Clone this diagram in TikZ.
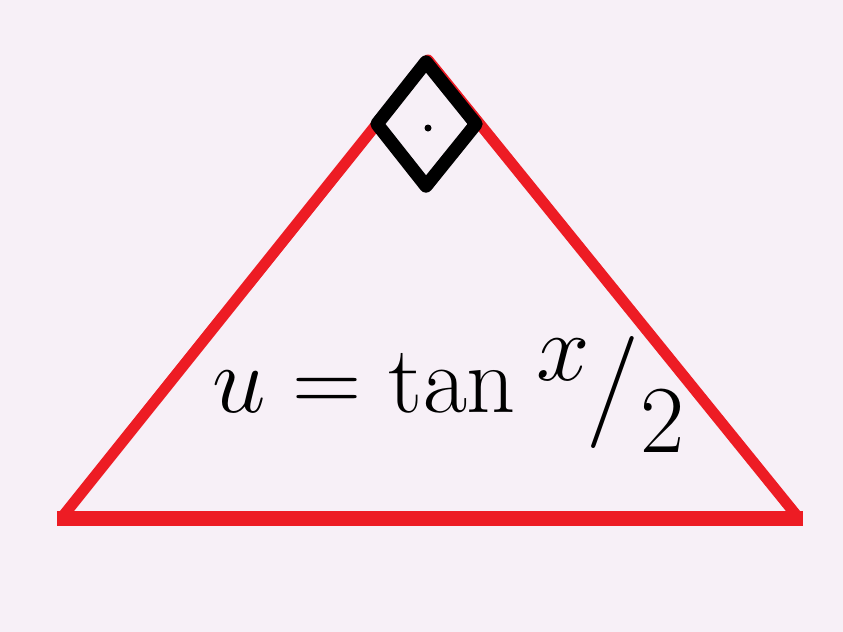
\RequirePackage{fix-cm}
\documentclass[tikz,border=0pt]{standalone}
\usepackage{tikz}

\definecolor{bgpink}{RGB}{247,240,247}
\definecolor{trired}{RGB}{237,28,36}

\tikzset{every picture/.style={line width=0.75pt}}
\tikzset{
  redside/.style={draw=trired, line width=8.25pt, line join=round},
  redbase/.style={draw=trired, line width=11pt},
  rightmark/.style={draw=black, line width=10pt, line join=round},
  bigmath/.style={anchor=base west, inner sep=0pt, font=\fontsize{72}{80}\selectfont}
}

\begin{document}
\begin{tikzpicture}[x=0.75pt,y=0.75pt,yscale=-1,xscale=1]
    %Background
    \fill[bgpink] (0,0) rectangle (843,632);

    %Corners of the triangle
    \coordinate (apex) at (428,60);
    \coordinate (sl) at (63,516);
    \coordinate (sr) at (797,516);
    \coordinate (bl) at (57,518.5);
    \coordinate (br) at (803,518.5);

    %Red sides
    \draw[redside] (sl) -- (apex) -- (sr);
    \draw[redbase] (bl) -- (br);

    %Right angle mark
    \coordinate (mtop) at (426,62);
    \coordinate (mright) at (476,124);
    \coordinate (mbot) at (426,186);
    \coordinate (mleft) at (377,124);
    \draw[rightmark] (mtop) -- (mright) -- (mbot) -- (mleft) -- cycle;
    \fill (428,128) circle (3.5);

    % Text Node
    \node[bigmath] (lhs) at (212,412) {$u=\tan$};
    % Text Node
    \node[bigmath] (frac) at (536,412) {\raisebox{24pt}{$x$}\kern-3pt\raisebox{-6pt}{\fontsize{84}{90}\selectfont$/$}\kern-0.5pt\raisebox{-30pt}{$2$}};
\end{tikzpicture}
\end{document}
